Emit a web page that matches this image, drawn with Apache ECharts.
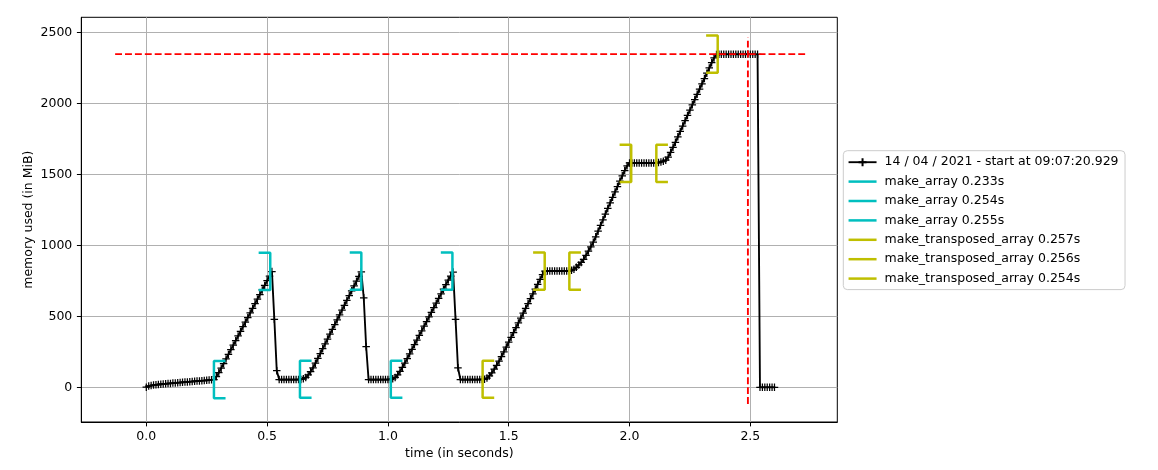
<!DOCTYPE html>
<html><head><meta charset="utf-8">
<script src="https://cdn.jsdelivr.net/npm/echarts@6/dist/echarts.min.js"></script>
<style>html,body{margin:0;padding:0;background:#fff}#c{width:1158px;height:470px}</style>
</head><body><div id="c"></div>
<script>
// ---- data ----
const times = [
  0.00,0.01,0.02,0.03,0.04,0.05,0.06,0.07,0.08,0.09,
  0.10,0.11,0.12,0.13,0.14,0.15,0.16,0.17,0.18,0.19,
  0.20,0.21,0.22,0.23,0.24,0.25,0.26,0.27,0.28,0.29,
  0.30,0.31,0.32,0.33,0.34,0.35,0.36,0.37,0.38,0.39,
  0.40,0.41,0.42,0.43,0.44,0.45,0.46,0.47,0.48,0.49,
  0.50,0.51,0.52,0.53,0.54,0.55,0.56,0.57,0.58,0.59,
  0.60,0.61,0.62,0.63,0.64,0.65,0.66,0.67,0.68,0.69,
  0.70,0.71,0.72,0.73,0.74,0.75,0.76,0.77,0.78,0.79,
  0.80,0.81,0.82,0.83,0.84,0.85,0.86,0.87,0.88,0.89,
  0.90,0.91,0.92,0.93,0.94,0.95,0.96,0.97,0.98,0.99,
  1.00,1.01,1.02,1.03,1.04,1.05,1.06,1.07,1.08,1.09,
  1.10,1.11,1.12,1.13,1.14,1.15,1.16,1.17,1.18,1.19,
  1.20,1.21,1.22,1.23,1.24,1.25,1.26,1.27,1.28,1.29,
  1.30,1.31,1.32,1.33,1.34,1.35,1.36,1.37,1.38,1.39,
  1.40,1.41,1.42,1.43,1.44,1.45,1.46,1.47,1.48,1.49,
  1.50,1.51,1.52,1.53,1.54,1.55,1.56,1.57,1.58,1.59,
  1.60,1.61,1.62,1.63,1.64,1.65,1.66,1.67,1.68,1.69,
  1.70,1.71,1.72,1.73,1.74,1.75,1.76,1.77,1.78,1.79,
  1.80,1.81,1.82,1.83,1.84,1.85,1.86,1.87,1.88,1.89,
  1.90,1.91,1.92,1.93,1.94,1.95,1.96,1.97,1.98,1.99,
  2.00,2.01,2.02,2.03,2.04,2.05,2.06,2.07,2.08,2.09,
  2.10,2.11,2.12,2.13,2.14,2.15,2.16,2.17,2.18,2.19,
  2.20,2.21,2.22,2.23,2.24,2.25,2.26,2.27,2.28,2.29,
  2.30,2.31,2.32,2.33,2.34,2.35,2.36,2.37,2.38,2.39,
  2.40,2.41,2.42,2.43,2.44,2.45,2.46,2.47,2.48,2.49,
  2.50,2.51,2.52,2.53,2.54,2.55,2.56,2.57,2.58,2.59,
  2.60
];
const memory = [
  1,9,13,16,18,20,22,24,25,27,
  28,30,31,33,34,36,37,38,40,41,
  43,44,45,47,48,50,51,53,55,76,
  103,135,167,200,232,265,297,329,362,394,
  427,459,491,524,556,589,621,653,686,718,
  751,783,815,479,117,55,55,55,55,55,
  55,55,55,55,56,60,70,87,110,138,
  170,204,238,272,306,340,374,408,442,476,
  510,544,578,612,646,680,714,748,782,814,
  631,286,55,55,55,55,55,55,55,55,
  55,56,60,70,88,112,140,171,203,236,
  268,301,333,366,398,431,463,496,528,561,
  593,626,658,691,723,756,784,812,479,138,
  55,55,55,55,55,55,55,55,55,56,
  57,65,80,102,128,155,184,217,250,284,
  318,352,386,420,454,488,522,556,590,624,
  658,692,726,760,794,818,819,819,819,819,
  819,819,819,819,819,819,824,832,845,862,
  880,902,930,960,990,1022,1060,1100,1140,1180,
  1220,1260,1300,1338,1376,1414,1452,1490,1527,1560,
  1580,1580,1580,1580,1580,1580,1580,1580,1580,1580,
  1580,1580,1583,1587,1593,1600,1622,1655,1690,1726,
  1764,1802,1840,1878,1915,1952,1990,2027,2064,2101,
  2138,2175,2212,2249,2286,2320,2344,2345,2345,2345,
  2345,2345,2345,2345,2345,2345,2345,2345,2345,2347,
  2345,2345,2345,2345,0,0,0,0,0,0,
  0
];
const runLabel = '14 / 04 / 2021 - start at 09:07:20.929';
const funcNames = [
  'make_array 0.233s', 'make_array 0.254s', 'make_array 0.255s',
  'make_transposed_array 0.257s', 'make_transposed_array 0.256s', 'make_transposed_array 0.254s'
];
const funcStart = [0.280, 0.636, 1.012, 1.392, 1.751, 2.111];
const funcDuration = [0.233, 0.254, 0.255, 0.257, 0.256, 0.254];
const funcStartMem = [55, 57, 57, 57, 818, 1578];
const funcEndMem = [817, 818, 818, 818, 1578, 2346];
const xTicks = [0, 0.5, 1.0, 1.5, 2.0, 2.5];
const yTicks = [0, 500, 1000, 1500, 2000, 2500];

// ---- style / layout ----
const FONT = 'DejaVu Sans';
const FS = 12.5;
const CYAN = '#00bfbf', YELLOW = '#bfbf00';
const funcColors = [CYAN, CYAN, CYAN, YELLOW, YELLOW, YELLOW];
const X_MIN = -0.269, X_MAX = 2.860, Y_MIN = -244, Y_MAX = 2606;
const H_SIZE = 0.048, V_SIZE = 131;

const memData = times.map((t, i) => [t, memory[i]]);

// max markers, as mprof draws them (data limits with 5% margins)
const tLo = Math.min(...times), tHi = Math.max(...times);
const mLo = Math.min(...memory), mHi = Math.max(...memory);
const xl0 = tLo - 0.05 * (tHi - tLo), xl1 = tHi + 0.05 * (tHi - tLo);
const yl0 = mLo - 0.05 * (mHi - mLo), yl1 = mHi + 0.05 * (mHi - mLo);
const maxIdx = memory.indexOf(mHi);
const tMax = times[maxIdx];

const series = [];
series.push({
  type: 'line', name: runLabel, data: memData,
  symbol: 'path://M0,5L10,5M5,0L5,10', symbolSize: 7.5, showAllSymbol: true,
  itemStyle: { color: '#000', borderColor: '#000', borderWidth: 1.25 },
  lineStyle: { color: '#000', width: 1.875 },
  z: 3, silent: true
});
funcNames.forEach((name, i) => {
  const s = funcStart[i], e = funcStart[i] + funcDuration[i];
  const m0 = funcStartMem[i], m1 = funcEndMem[i];
  const st = { color: funcColors[i], width: 2.5 };
  const common = { type: 'line', name, symbol: 'circle', showSymbol: false, lineStyle: st,
    itemStyle: { color: funcColors[i] }, z: 4, silent: true };
  series.push(Object.assign({}, common, {
    data: [[s + H_SIZE, m0 + V_SIZE], [s, m0 + V_SIZE], [s, m0 - V_SIZE], [s + H_SIZE, m0 - V_SIZE]]
  }));
  series.push(Object.assign({}, common, {
    data: [[e - H_SIZE, m1 + V_SIZE], [e, m1 + V_SIZE], [e, m1 - V_SIZE], [e - H_SIZE, m1 - V_SIZE]]
  }));
});
const dashStyle = { color: '#ff0000', width: 1.875, type: [6.9, 3] };
series.push({
  type: 'line', name: '_maxh', symbol: 'none', lineStyle: dashStyle, z: 5, silent: true,
  data: [[xl0 + 0.001, mHi], [xl1 - 0.001, mHi]]
});
series.push({
  type: 'line', name: '_maxv', symbol: 'none', lineStyle: dashStyle, z: 5, silent: true,
  data: [[tMax, yl0], [tMax, yl1]]
});

const axisCommon = {
  axisLine: { show: true, onZero: false, lineStyle: { color: '#000', width: 1 } },
  axisTick: { show: true, length: 4.4, lineStyle: { color: '#000', width: 1 } },
  splitLine: { show: true, lineStyle: { color: '#b0b0b0', width: 1 } },
  nameTextStyle: { fontFamily: FONT, fontSize: FS, color: '#000' },
  nameMoveOverlap: false
};

const legendData = [{ name: runLabel, lineStyle: { width: 1.875 } }].concat(
  funcNames.map(n => ({ name: n, itemStyle: { opacity: 0 }, lineStyle: { width: 2.5 } }))
);

const chart = echarts.init(document.getElementById('c'), null, { renderer: 'canvas' });
chart.setOption({
  animation: false,
  backgroundColor: '#fff',
  grid: {
    left: 81.3, top: 17.3, width: 756, height: 404.7,
    containLabel: false, outerBoundsMode: 'none',
    show: true, borderColor: '#000', borderWidth: 1, backgroundColor: 'transparent'
  },
  xAxis: Object.assign({}, axisCommon, {
    type: 'value', min: X_MIN, max: X_MAX,
    name: 'time (in seconds)', nameLocation: 'middle', nameGap: 25,
    axisTick: Object.assign({}, axisCommon.axisTick, { customValues: xTicks }),
    axisLabel: { customValues: xTicks, margin: 8.5, fontFamily: FONT, fontSize: FS, color: '#000',
      formatter: v => Number(v).toFixed(1) }
  }),
  yAxis: Object.assign({}, axisCommon, {
    type: 'value', min: Y_MIN, max: Y_MAX,
    name: 'memory used (in MiB)', nameLocation: 'middle', nameGap: 46,
    axisTick: Object.assign({}, axisCommon.axisTick, { customValues: yTicks }),
    axisLabel: { customValues: yTicks, margin: 9, fontFamily: FONT, fontSize: FS, color: '#000',
      formatter: v => String(Math.round(v)) }
  }),
  legend: {
    data: legendData,
    orient: 'vertical', left: 843.3, top: 150.7,
    itemWidth: 28, itemHeight: 10, itemGap: 6.4,
    padding: [5, 6.5, 4.5, 4],
    borderColor: '#cccccc', borderWidth: 1, borderRadius: 4,
    backgroundColor: 'rgba(255,255,255,0.8)',
    selectedMode: false,
    textStyle: { fontFamily: FONT, fontSize: FS, color: '#000', padding: [0, 0, 0, 3] }
  },
  series
});
</script>
</body></html>
